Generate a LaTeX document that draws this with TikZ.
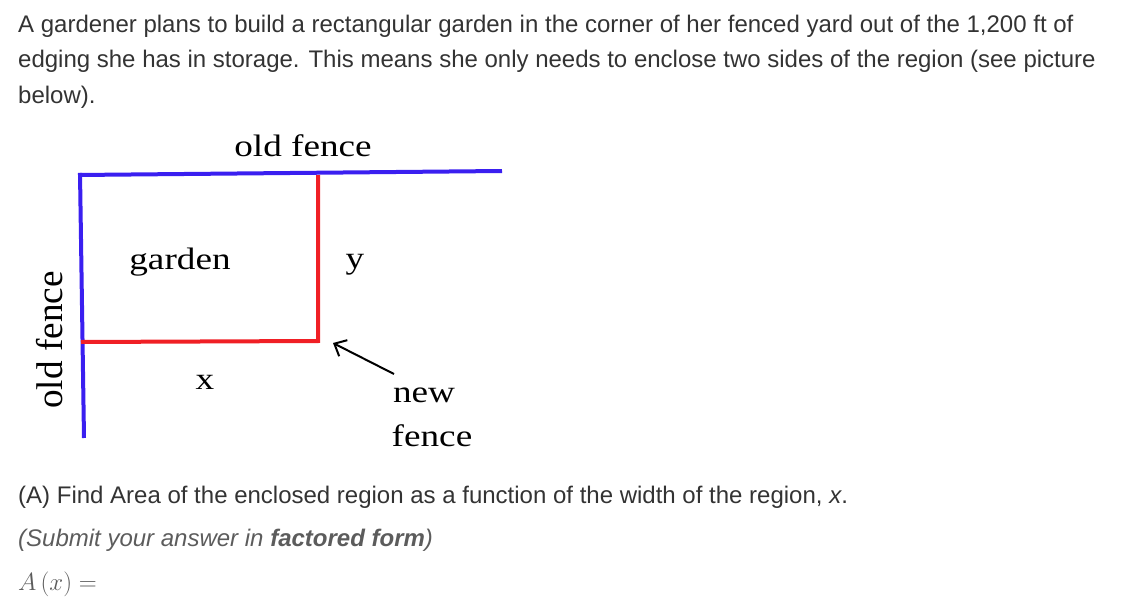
\documentclass[tikz,border=0pt]{standalone}
\usepackage{fontspec}
\setmainfont{Liberation Sans}
\newfontfamily\serif{Liberation Serif}
\usetikzlibrary{arrows.meta}
\definecolor{txt}{HTML}{333333}
\definecolor{fblue}{HTML}{3A1FF0}
\definecolor{fred}{HTML}{F01F25}
\begin{document}
\begin{tikzpicture}[x=1pt,y=-1pt,
  body/.style={anchor=base west,inner sep=0,font=\fontsize{24}{28}\selectfont,text=txt},
  lab/.style={inner sep=0,xscale=1.2,font=\serif\fontsize{31}{33}\selectfont},
  bfence/.style={fblue,line width=4pt},
  rfence/.style={fred,line width=4pt}]
\useasboundingbox (0,0) rectangle (1144,602);
\node[body] (l1) at (18,33) {A gardener plans to build a rectangular garden in the corner of her fenced yard out of the 1,200 ft of};
\node[body] (l2) at (18,68) {edging she has in storage. This means she only needs to enclose two sides of the region (see picture};
\node[body] (l3) at (18,103) {below).};
\coordinate (tl) at (78,175);
\coordinate (tr) at (502,171);
\coordinate (bl) at (84,438);
\coordinate (rt) at (318,175);
\coordinate (rb) at (318,341);
\coordinate (lb) at (81,342);
\draw[bfence] (tl) -- (tr);
\draw[bfence] (80,173) -- (bl);
\draw[rfence] (rt) -- (rb) -- (lb);
\coordinate (as) at (394,374);
\coordinate (ae) at (333,343);
\draw[line width=2pt,-{Straight Barb[length=10pt,width=18pt]}] (as) -- (ae);
\node[lab] (of1) at (303,146) {old fence};
\node[lab] (g) at (180,262) {garden};
\node[lab] (y) at (355,265) {y};
\node[lab] (x) at (205,382) {x};
\node[lab] (nw) at (424,395) {new};
\node[lab] (fc) at (432,436) {fence};
\node[lab,rotate=90,xscale=1] (of2) at (50,340) {\scalebox{1.2}[1]{old fence}};
\node[body] (q1) at (18,503) {(A) Find Area of the enclosed region as a function of the width of the region, \textit{x}.};
\node[body,text=txt!80,font=\itshape\fontsize{24}{28}\selectfont] (q2) at (18,546) {(Submit your answer in \textbf{factored form})};
\node[body,text=txt!80,font=\fontsize{31}{34}\selectfont] (q3) at (18,590) {$A\left(x\right)=$};
\end{tikzpicture}
\end{document}
